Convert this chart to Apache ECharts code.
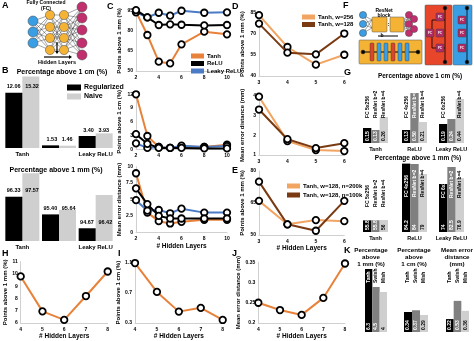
<!DOCTYPE html>
<html><head><meta charset="utf-8">
<script src="https://cdn.jsdelivr.net/npm/echarts@6/dist/echarts.min.js"></script>
<style>html,body{margin:0;padding:0;background:#fff}#c{width:474px;height:341px}</style>
</head><body><div id="c"></div><script>
// ---------- DATA ----------
const bCats = ['Tanh', 'ReLU', 'Leaky ReLU'];
const b1Regularized = [12.06, 1.53, 3.40];
const b1Naive = [15.32, 1.46, 3.93];
const b2Regularized = [96.33, 95.40, 94.67];
const b2Naive = [97.57, 95.64, 96.42];

const cLayers = [2, 3, 4, 5, 6, 8, 10];
const c1Tanh = [94.5, 77, 57, 55.7, 70, 79.5, 77.5];
const c1Relu = [95.7, 90.2, 84.5, 85, 84.7, 84.2, 84.5];
const c1Leaky = [94, 90.2, 93.7, 91.5, 95.2, 93.7, 94];
const c2Tanh = [12, 2.9, 0.5, 0.3, 0.6, 0.5, 1.0];
const c2Relu = [3.3, 1.2, 0.3, 0.3, 0.3, 0.2, 0.2];
const c2Leaky = [1.3, 0.3, 0.5, 0.3, 0.8, 0.5, 0.7];
const c3Tanh = [9.0, 3.0, 1.7, 1.35, 1.6, 1.9, 1.9];
const c3Relu = [6.7, 4.3, 2.5, 2.1, 2.1, 2.1, 2.1];
const c3Leaky = [4.9, 3.3, 3.4, 2.9, 3.6, 3.0, 3.0];

const dLayers = [3, 4, 5, 6];
const d1W256 = [83, 60.5, 48, 55];
const d1W128 = [77, 56.5, 55.3, 70];
const d2W256 = [3.95, 1.7, 1.25, 1.2];
const d2W128 = [3.3, 1.8, 1.35, 1.6];
const e1N200k = [66, 55, 57, 56.5];
const e1N100k = [75, 55, 52, 66];

const hLayers = [4, 5, 6, 7, 8];
const hVals = [9.8, 6.95, 6.25, 8.2, 10.2];
const iVals = [1.09, 0.71, 0.45, 0.5, 0.34];
const jVals = [0.25, 0.232, 0.22, 0.262, 0.347];

const gTanhNames = ['FC 5x256', 'ResNet b=2', 'ResNet b=4'];
const gReluNames = ['FC 4x256', 'ResNet b=2', 'ResNet b=4'];
const gLeakyNames = ['FC 6x256', 'ResNet b=2', 'ResNet b=4'];
const g1Tanh = [0.15, 0.13, 0.26];
const g1Relu = [0.13, 0.50, 0.21];
const g1Leaky = [0.19, 0.24, 0.44];
const g2Tanh = [55.82, 55.87, 56];
const g2Relu = [84.2, 84, 79];
const g2Leaky = [74, 82.5, 76.9];

const kCats = ['Tanh', 'Swish', 'Mish'];
const k1Vals = [6.3, 4.5, 4];
const k2Vals = [0.34, 0.37, 0.29];
const k3Vals = [0.22, 0.53, 0.36];

// ---------- STYLE ----------
const FONT = 'Liberation Sans';
const ORANGE = '#e8823a', BLUE = '#4a7bc4', LIGHTOR = '#f2a463', BROWN = '#7a3a12';
const BLACK = '#000', DGRAY = '#808080', LGRAY = '#cfcfcf';

const grid = [], xAxis = [], yAxis = [], series = [], legend = [], graphic = [];

function txt(x, y, s, size, opts) {
  opts = opts || {};
  graphic.push({type: 'text', x: x, y: y, z: 100, rotation: opts.rot || 0,
    style: {text: s, fontSize: size, fontWeight: opts.weight || 'bold', fontFamily: FONT,
      fill: opts.fill || '#000', textAlign: opts.align || 'left', align: opts.align || 'left',
      textVerticalAlign: opts.valign || 'top', verticalAlign: opts.valign || 'top', lineHeight: opts.lh || size + 1}});
}

function lineGrid(box, xr, yr, yName, xName) {
  const gi = grid.length;
  grid.push({left: box[0], top: box[1], width: box[2], height: box[3]});
  xAxis.push({gridIndex: gi, type: 'value', min: xr[0], max: xr[1], interval: xr[2],
    axisLine: {lineStyle: {color: '#d0d0d0', width: 1}}, axisTick: {show: false}, splitLine: {show: false},
    axisLabel: {fontSize: 5, color: '#000', fontWeight: 'bold', fontFamily: FONT, margin: 4},
    name: xName || '', nameLocation: 'middle', nameGap: 10,
    nameTextStyle: {fontSize: 6.5, fontWeight: 'bold', fontFamily: FONT, color: '#000'}});
  yAxis.push({gridIndex: gi, type: 'value', min: yr[0], max: yr[1], interval: yr[2],
    axisLine: {show: true, lineStyle: {color: '#d0d0d0', width: 1}}, axisTick: {show: false}, splitLine: {show: false},
    axisLabel: {fontSize: 5, color: '#000', fontWeight: 'bold', fontFamily: FONT, margin: 3},
    name: yName, nameLocation: 'middle', nameGap: yr[3] || 14,
    nameTextStyle: {fontSize: 6, fontWeight: 'bold', fontFamily: FONT, color: '#000'}});
  return gi;
}
function addLine(gi, name, xs, ys, color, z) {
  series.push({type: 'line', name: name, xAxisIndex: gi, yAxisIndex: gi, clip: false, z: z || 2,
    data: xs.map((x, i) => [x, ys[i]]), color: color,
    symbol: 'circle', symbolSize: 6.5,
    itemStyle: {color: '#fff', borderColor: '#000', borderWidth: 1.8},
    lineStyle: {color: color, width: 2}, emphasis: {disabled: true}});
}

// ---------- B ----------
function barB(box, reg, nai, ymin, ymax) {
  const gi = grid.length;
  grid.push({left: box[0], top: box[1], width: box[2], height: box[3]});
  xAxis.push({gridIndex: gi, type: 'category', data: bCats, axisLine: {show: false}, axisTick: {show: false},
    axisLabel: {fontSize: 6, fontWeight: 'bold', fontFamily: FONT, color: '#000', margin: 3}});
  yAxis.push({gridIndex: gi, type: 'value', min: ymin, max: ymax, show: false});
  series.push({type: 'bar', name: 'Regularized', xAxisIndex: gi, yAxisIndex: gi, barWidth: 17, barGap: '0%', z: 2,
    itemStyle: {color: BLACK}, data: reg,
    label: {show: true, position: 'top', fontSize: 5.5, fontWeight: 'bold', fontFamily: FONT, color: '#000', distance: 3,
      offset: [9, 0], formatter: p => p.value.toFixed(2) + '   ' + nai[p.dataIndex].toFixed(2)}});
  series.push({type: 'bar', name: 'Naive', xAxisIndex: gi, yAxisIndex: gi, barWidth: 17, barGap: '0%', z: 1,
    itemStyle: {color: LGRAY}, data: nai});
}
barB([4, 73, 110, 75], b1Regularized, b1Naive, 1, 16);
barB([4, 165, 110, 76], b2Regularized, b2Naive, 94, 98);
txt(62, 68, 'Percentage above 1 cm (%)', 7, {align: 'center'});
txt(56, 166, 'Percentage above 1 mm (%)', 7, {align: 'center'});
legend.push({left: 62, top: 79, orient: 'vertical', itemGap: 2, itemWidth: 14, itemHeight: 6, icon: 'rect',
  textStyle: {fontSize: 7, fontWeight: 'bold', fontFamily: FONT, color: '#000', padding: [0, 0, 0, -2]},
  data: [{name: 'Regularized', itemStyle: {color: BLACK}}, {name: 'Naive', itemStyle: {color: LGRAY}}]});

// ---------- C ----------
let gi;
gi = lineGrid([136, 11, 91, 60], [2, 10, 2], [50, 95, 15, 14], 'Points above 1 mm (%)');
addLine(gi, 'Tanh', cLayers, c1Tanh, ORANGE, 2); addLine(gi, 'ReLU', cLayers, c1Relu, BLACK, 3); addLine(gi, 'Leaky ReLU', cLayers, c1Leaky, BLUE, 2);
gi = lineGrid([136, 94.3, 91, 55], [2, 10, 2], [0, 12, 3, 14], 'Points above 1 cm (%)');
addLine(gi, 'Tanh', cLayers, c2Tanh, ORANGE, 2); addLine(gi, 'ReLU', cLayers, c2Relu, BLACK, 3); addLine(gi, 'Leaky ReLU', cLayers, c2Leaky, BLUE, 2);
gi = lineGrid([136, 166.7, 91, 65.6], [2, 10, 2], [0, 10, 2.5, 14], 'Mean error distance (mm)', '# Hidden Layers');
addLine(gi, 'Tanh', cLayers, c3Tanh, ORANGE, 2); addLine(gi, 'ReLU', cLayers, c3Relu, BLACK, 3); addLine(gi, 'Leaky ReLU', cLayers, c3Leaky, BLUE, 2);
legend.push({left: 186, top: 48, orient: 'vertical', itemGap: 1.5, itemWidth: 13, itemHeight: 5, icon: 'rect',
  textStyle: {fontSize: 6, fontWeight: 'bold', fontFamily: FONT, color: '#000', padding: [0, 0, 0, -2]},
  data: [{name: 'Tanh', itemStyle: {color: ORANGE, borderWidth: 0}}, {name: 'ReLU', itemStyle: {color: BLACK, borderWidth: 0}},
    {name: 'Leaky ReLU', itemStyle: {color: BLUE, borderWidth: 0}}]});

// ---------- D / E ----------
gi = lineGrid([259, 12.3, 85.3, 63.7], [3, 6, 1], [40, 85, 15, 14], 'Points above 1 mm (%)');
addLine(gi, 'Tanh, w=256', dLayers, d1W256, LIGHTOR, 2); addLine(gi, 'Tanh, w=128', dLayers, d1W128, BROWN, 3);
gi = lineGrid([259, 95.7, 85.3, 59.3], [3, 6, 1], [1, 4, 1, 14], 'Mean error distance (mm)');
addLine(gi, 'Tanh, w=256', dLayers, d2W256, LIGHTOR, 2); addLine(gi, 'Tanh, w=128', dLayers, d2W128, BROWN, 3);
legend.push({left: 297, top: 9, orient: 'vertical', itemGap: 1.5, itemWidth: 13, itemHeight: 5, icon: 'rect',
  textStyle: {fontSize: 6, fontWeight: 'bold', fontFamily: FONT, color: '#000', padding: [0, 0, 0, -2]},
  data: [{name: 'Tanh, w=256', itemStyle: {color: LIGHTOR, borderWidth: 0}}, {name: 'Tanh, w=128', itemStyle: {color: BROWN, borderWidth: 0}}]});
gi = lineGrid([259, 171, 85.3, 64], [3, 6, 1], [50, 80, 15, 14], 'Points above 1 mm (%)', '# Hidden Layers');
addLine(gi, 'Tanh, w=128, n=200k', dLayers, e1N200k, LIGHTOR, 2); addLine(gi, 'Tanh, w=128, n=100k', dLayers, e1N100k, BROWN, 3);
legend.push({left: 282, top: 178, orient: 'vertical', itemGap: 3, itemWidth: 13, itemHeight: 5, icon: 'rect',
  textStyle: {fontSize: 6, fontWeight: 'bold', fontFamily: FONT, color: '#000', padding: [0, 0, 0, -2]},
  data: [{name: 'Tanh, w=128, n=200k', itemStyle: {color: LIGHTOR, borderWidth: 0}}, {name: 'Tanh, w=128, n=100k', itemStyle: {color: BROWN, borderWidth: 0}}]});

// ---------- H / I / J ----------
gi = lineGrid([20.7, 261.7, 87, 62.6], [4, 8, 1], [6, 11, 1, 11], 'Points above 1 mm (%)', '# Hidden Layers');
addLine(gi, 'H', hLayers, hVals, ORANGE, 2);
gi = lineGrid([135, 262.3, 87.7, 62.7], [4, 8, 1], [0.3, 1.1, 0.4, 14], 'Points above 1 cm (%)', '# Hidden Layers');
addLine(gi, 'I', hLayers, iVals, ORANGE, 2);
gi = lineGrid([258.3, 262.3, 86.7, 62.7], [4, 8, 1], [0.2, 0.35, 0.05, 16], 'Mean error distance (mm)', '# Hidden Layers');
addLine(gi, 'J', hLayers, jVals, ORANGE, 2);

// ---------- G / K small bar groups ----------
// bars are measured from a baseline value `base` (the visible bottom of the panel)
const tri = [BLACK, DGRAY, LGRAY];
const triLab = ['#fff', '#fff', '#000'];
function group(box, names, vals, base, ymax, groupName, fmt) {
  const gi = grid.length;
  grid.push({left: box[0], top: box[1], width: box[2], height: box[3]});
  xAxis.push({gridIndex: gi, type: 'category', data: names, position: 'top', z: 10,
    axisLine: {show: false}, axisTick: {show: false},
    axisLabel: {rotate: 90, fontSize: 5, fontWeight: 'bold', fontFamily: FONT, margin: 2, interval: 0,
      color: (v, i) => vals[i] > ymax ? triLab[i] : '#000'}});
  xAxis.push({gridIndex: gi, type: 'category', data: [groupName || ''], position: 'bottom',
    axisLine: {show: false}, axisTick: {show: false},
    axisLabel: {fontSize: 5.5, fontWeight: 'bold', fontFamily: FONT, color: '#000', margin: 3}});
  yAxis.push({gridIndex: gi, type: 'value', min: 0, max: ymax - base, show: false});
  series.push({type: 'bar', xAxisIndex: xAxis.length - 2, yAxisIndex: gi, barCategoryGap: '0%', clip: false,
    data: vals.map((v, i) => ({value: v - base, itemStyle: {color: tri[i]}, label: {color: triLab[i]}})),
    label: {show: true, position: 'insideBottom', rotate: 90, align: 'left', verticalAlign: 'middle', distance: 2,
      fontSize: 5, fontWeight: 'bold', fontFamily: FONT,
      formatter: p => fmt ? fmt(vals[p.dataIndex]) : String(vals[p.dataIndex])}});
}
const f2 = v => v.toFixed(2);
group([363, 120, 25, 23], gTanhNames, g1Tanh, 0, 0.23, 'Tanh', f2);
group([402, 120, 25, 23], gReluNames, g1Relu, 0, 0.23, 'ReLU', f2);
group([439, 120, 25, 23], gLeakyNames, g1Leaky, 0, 0.23, 'Leaky ReLU', f2);
txt(420, 72, 'Percentage above 1 cm (%)', 6.5, {align: 'center'});
txt(418, 154, 'Percentage above 1 mm (%)', 6.5, {align: 'center'});
group([363, 209, 25, 23], gTanhNames, g2Tanh, 50, 61.5, 'Tanh');
group([402, 199, 25, 33], gReluNames, g2Relu, 50, 66.5, 'ReLU');
group([439, 200, 25, 32], gLeakyNames, g2Leaky, 50, 66, 'Leaky ReLU');

group([365, 285, 22, 47], kCats, k1Vals, 0, 4.7, '');
group([404, 285, 24, 47], kCats, k2Vals, 0, 0.8, '');
group([446, 285, 23, 47], kCats, k3Vals, 0, 0.8, '');
txt(371, 247, 'Percentage\nabove\n1 mm (%)', 6.2, {align: 'center', lh: 7});
txt(414, 247, 'Percentage\nabove\n1 cm (%)', 6.2, {align: 'center', lh: 7});
txt(457, 247, 'Mean error\ndistance\n(mm)', 6.2, {align: 'center', lh: 7});

// ---------- Panel letters ----------
[['A', 2, 1], ['B', 2, 66], ['C', 107, 2], ['D', 232, 2], ['E', 232, 166], ['F', 343, 1], ['G', 344, 68],
 ['H', 2, 249], ['I', 118, 249], ['J', 232, 249], ['K', 344, 246]].forEach(a => txt(a[1], a[2], a[0], 9));

// ---------- Schematic A ----------
const aBlue = [[33, 21], [33, 32], [33, 43]];
const aOr1 = [[50, 15], [50, 27], [50, 38], [50, 50]];
const aOr2 = [[64, 15], [64, 27], [64, 38], [64, 50]];
const aPur = [[82, 7], [82, 18], [82, 30], [82, 43], [82, 55]];
function conn(A, B) { A.forEach(p => B.forEach(q => graphic.push({type: 'line', z: 90, shape: {x1: p[0], y1: p[1], x2: q[0], y2: q[1]}, style: {stroke: '#222', lineWidth: 0.4}}))); }
conn(aBlue, aOr1); conn(aOr1, aOr2); conn(aOr2, aPur);
function circ(p, r, c) { graphic.push({type: 'circle', z: 95, shape: {cx: p[0], cy: p[1], r: r}, style: {fill: c, stroke: '#444', lineWidth: 0.5}}); }
aBlue.forEach(p => circ(p, 5, '#3a9ee4')); aOr1.forEach(p => circ(p, 4.6, '#f5b335')); aOr2.forEach(p => circ(p, 4.6, '#f5b335')); aPur.forEach(p => circ(p, 5, '#c22f6e'));
graphic.push({type: 'line', z: 96, shape: {x1: 57, y1: 42, x2: 57, y2: 52}, style: {stroke: '#000', lineWidth: 1.2}});
graphic.push({type: 'polygon', z: 96, shape: {points: [[55, 51], [59, 51], [57, 54]]}, style: {fill: '#000'}});
graphic.push({type: 'line', z: 96, shape: {x1: 44, y1: 57, x2: 70, y2: 57}, style: {stroke: '#000', lineWidth: 1.2}});
graphic.push({type: 'polygon', z: 96, shape: {points: [[69, 55], [69, 59], [72, 57]]}, style: {fill: '#000'}});
txt(57, 32, ':', 6, {align: 'center'});
txt(46, 0, 'Fully Connected\n(FC)', 5, {align: 'center', lh: 5.5});
txt(57, 59, 'Hidden Layers', 5.5, {align: 'center'});

// ---------- Schematic F ----------
const fBlue = [[363, 15], [363, 24], [363, 33]];
const fPur = [[409, 15], [409, 24], [409, 33], [414, 19], [414, 29]];
conn(fBlue, [[372, 20], [372, 28]]);
conn([[403, 20], [403, 28]], fPur);
fBlue.forEach(p => circ(p, 3.6, '#3a9ee4')); fPur.forEach(p => circ(p, 3.6, '#c22f6e'));
function rect(x, y, w, h, fill, stroke, lw, z) { graphic.push({type: 'rect', z: z || 95, shape: {x: x, y: y, width: w, height: h, r: 1}, style: {fill: fill, stroke: stroke || null, lineWidth: lw || 0}}); }
rect(372, 17, 15, 15, '#f5b335', '#555', 0.5); rect(390, 17, 14, 15, '#f5b335', '#555', 0.5);
txt(388.5, 21, ':', 6, {align: 'center'});
txt(384, 8, 'ResNet\nblock', 5, {align: 'center', lh: 5, weight: 'bold'});
graphic.push({type: 'line', z: 96, shape: {x1: 378, y1: 36, x2: 398, y2: 36}, style: {stroke: '#000', lineWidth: 1}});
txt(382, 33, 'b', 5, {align: 'center'});
rect(359, 40, 63, 24, '#f5b335', '#555', 0.5);
graphic.push({type: 'line', z: 96, shape: {x1: 363, y1: 52, x2: 418, y2: 52}, style: {stroke: '#000', lineWidth: 1}});
circ([363, 52], 2, '#000'); circ([418, 52], 2, '#000');
[[372, '#d9462b'], [379, '#3a9ee4'], [386, '#3a9ee4'], [393, '#d9462b'], [400, '#3a9ee4'], [407, '#3a9ee4']].forEach(b => rect(b[0] - 2, 43, 4, 18, b[1], '#333', 0.4, 97));
rect(425, 5, 27, 60, '#e8462a', '#555', 0.5);
rect(453, 5, 19, 60, '#3a9ee4', '#555', 0.5);
[[445, 9, 445, 61], [432, 20, 445, 20], [432, 20, 432, 48], [432, 48, 445, 48]].forEach(l => graphic.push({type: 'line', z: 96, shape: {x1: l[0], y1: l[1], x2: l[2], y2: l[3]}, style: {stroke: '#000', lineWidth: 0.8}}));
[[467, 9, 467, 61]].forEach(l => graphic.push({type: 'line', z: 96, shape: {x1: l[0], y1: l[1], x2: l[2], y2: l[3]}, style: {stroke: '#000', lineWidth: 0.8}}));
circ([445, 8], 2, '#000'); circ([445, 62], 2, '#000'); circ([467, 8], 2, '#000'); circ([467, 62], 2, '#000');
[[440, 17], [430, 33], [440, 33], [440, 48], [462, 20], [462, 33], [462, 48]].forEach(p => {
  rect(p[0] - 4, p[1] - 4, 8, 8, '#b02c64', '#333', 0.4, 98);
  txt(p[0], p[1] - 1.5, 'FC', 3, {align: 'center', fill: '#fff'});
});

const chart = echarts.init(document.getElementById('c'), null, {renderer: 'canvas'});
chart.setOption({animation: false, textStyle: {fontFamily: FONT}, grid: grid, xAxis: xAxis, yAxis: yAxis, series: series, legend: legend, graphic: graphic});
</script></body></html>
